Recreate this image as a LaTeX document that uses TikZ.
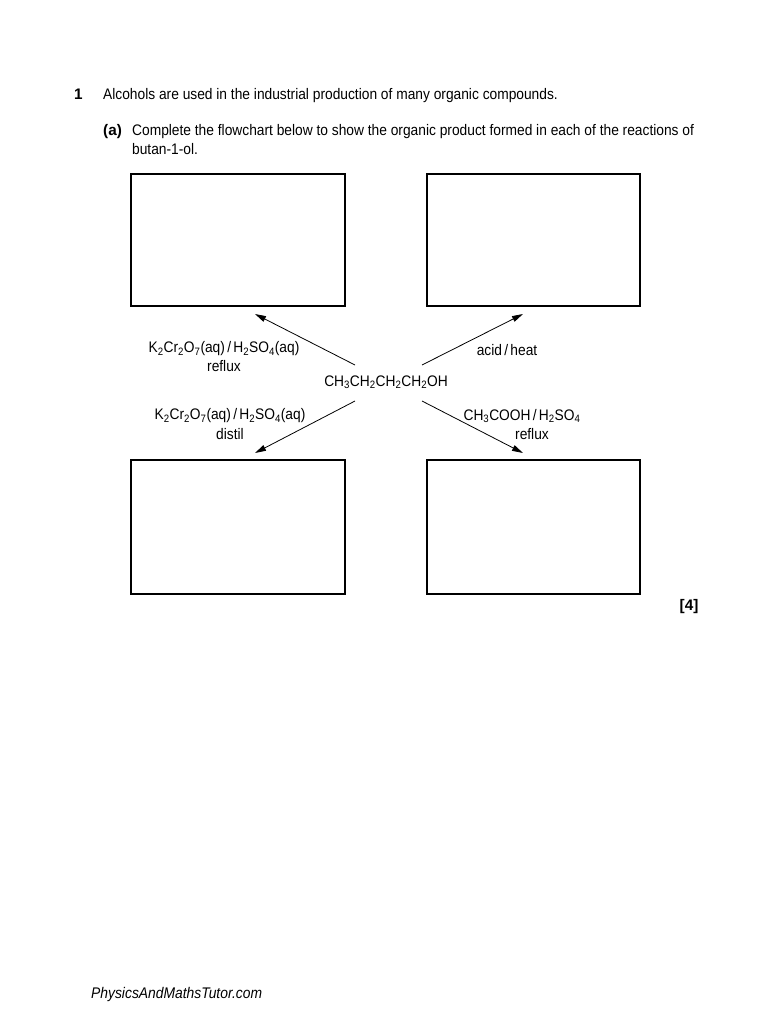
\documentclass[tikz,border=0pt]{standalone}
\usepackage{fontspec}
\setmainfont{Liberation Sans}
\usetikzlibrary{arrows.meta}
\newcommand{\sbs}[1]{\textsubscript{#1}}
\begin{document}
\begin{tikzpicture}[x=1pt,y=-1pt,
  every node/.style={font=\fontsize{15.3}{18}\selectfont,inner sep=0pt},
  answer/.style={draw,line width=1.1pt},
  arr/.style={-{Triangle[length=11pt,width=6pt]},line width=0.8pt}]
\useasboundingbox[fill=white] (0,0) rectangle (768,1024);
\node[anchor=base west,font=\fontsize{15.3}{18}\selectfont\bfseries] (n1) at (74,100) {1};
\node[anchor=base west,xscale=0.9] (t1) at (103,100) {Alcohols are used in the industrial production of many organic compounds.};
\node[anchor=base west,font=\fontsize{15.3}{18}\selectfont\bfseries] (na) at (103,136) {(a)};
\node[anchor=base west,xscale=0.9] (t2) at (132,136) {Complete the flowchart below to show the organic product formed in each of the reactions of};
\node[anchor=base west,xscale=0.9] (t3) at (132,155) {butan-1-ol.};
\draw[answer] (131,174) rectangle (345,306);
\draw[answer] (427,174) rectangle (640,306);
\draw[answer] (131,460) rectangle (345,594);
\draw[answer] (427,460) rectangle (640,594);
\node[xscale=0.9] (c) at (386,382) {CH\sbs{3}CH\sbs{2}CH\sbs{2}CH\sbs{2}OH};
\coordinate (a1) at (355,365); \coordinate (b1) at (255,314);
\coordinate (a2) at (422,365); \coordinate (b2) at (523,314);
\coordinate (a3) at (355,401); \coordinate (b3) at (255,453);
\coordinate (a4) at (422,401); \coordinate (b4) at (523,453);
\draw[arr] (a1) -- (b1);
\draw[arr] (a2) -- (b2);
\draw[arr] (a3) -- (b3);
\draw[arr] (a4) -- (b4);
\node[xscale=0.9] (l1) at (224,349) {K\sbs{2}Cr\sbs{2}O\sbs{7}(aq)\,/\,H\sbs{2}SO\sbs{4}(aq)};
\node[xscale=0.9] (l1b) at (224,366) {reflux};
\node[xscale=0.9] (l2) at (507,350) {acid\,/\,heat};
\node[xscale=0.9] (l3) at (230,416) {K\sbs{2}Cr\sbs{2}O\sbs{7}(aq)\,/\,H\sbs{2}SO\sbs{4}(aq)};
\node[xscale=0.9] (l3b) at (230,434) {distil};
\node[xscale=0.9] (l4) at (522,416) {CH\sbs{3}COOH\,/\,H\sbs{2}SO\sbs{4}};
\node[xscale=0.9] (l4b) at (532,434) {reflux};
\node[font=\fontsize{15.3}{18}\selectfont\bfseries] (m) at (689,607) {[4]};
\node[anchor=base west,font=\fontsize{15.4}{18}\selectfont\itshape,xscale=0.9] (f) at (91,998) {PhysicsAndMathsTutor.com};
\end{tikzpicture}
\end{document}
